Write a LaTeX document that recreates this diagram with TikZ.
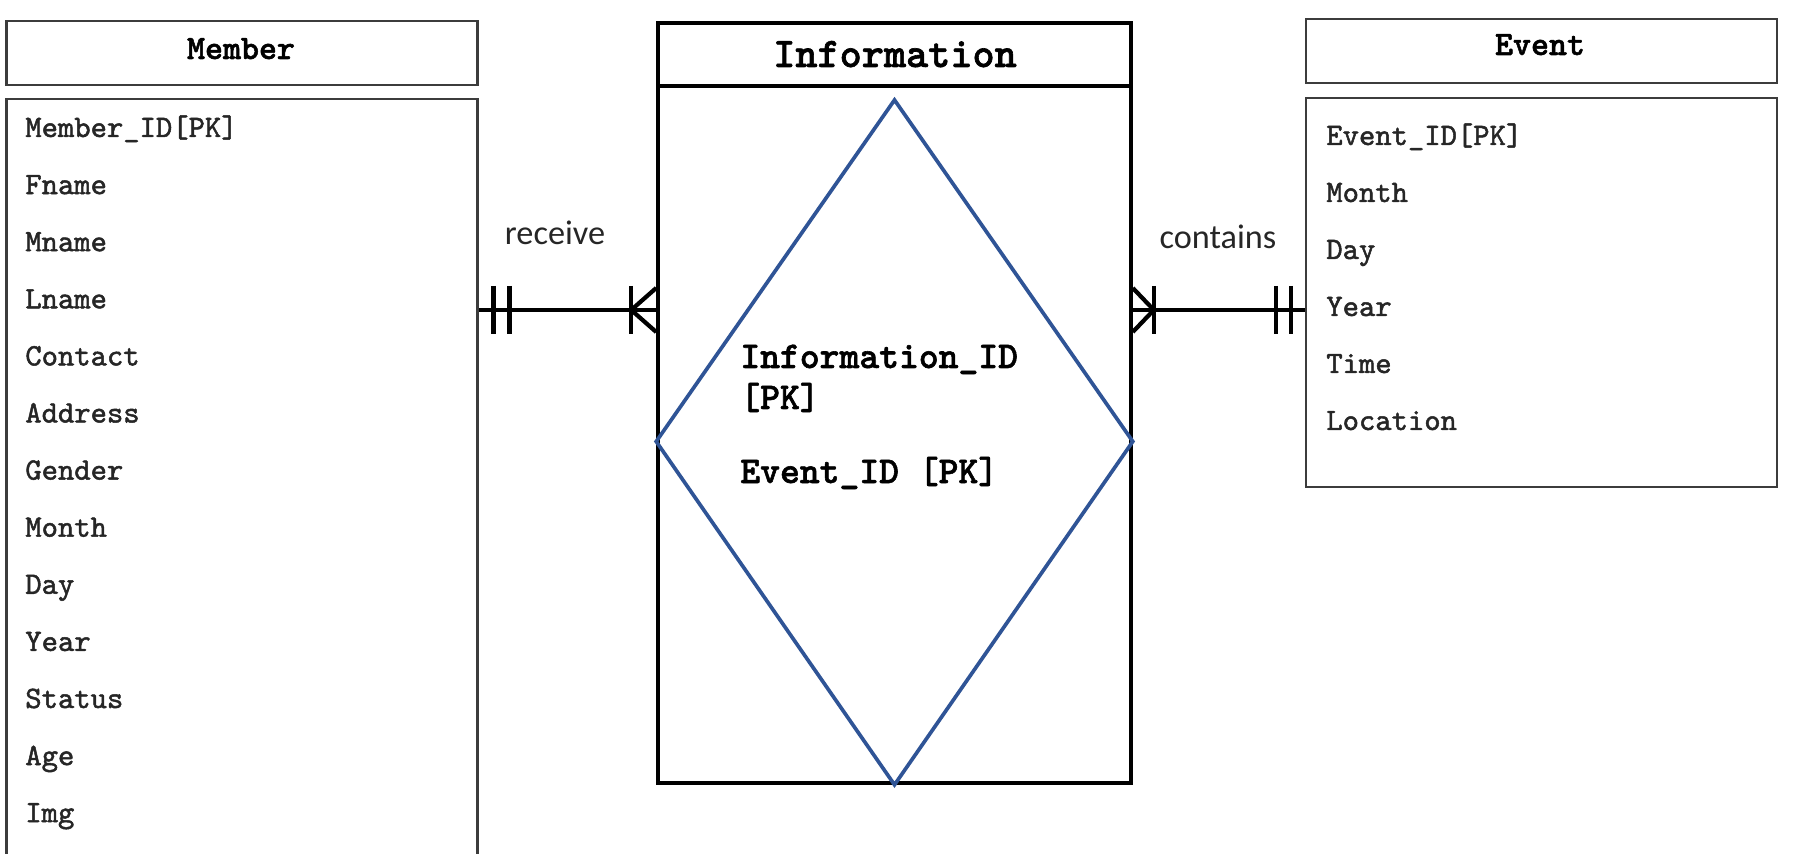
\documentclass[tikz,border=0pt]{standalone}
\usepackage{fontspec}
\newfontfamily\attrfont{lmmono10-regular.otf}[FakeBold=1.6]
\newfontfamily\hdfont{lmmonolt10-bold.otf}[FakeBold=1.5]
\newfontfamily\relfont{Carlito}
\usetikzlibrary{positioning,calc}
\definecolor{boxgray}{RGB}{60,60,60}
\definecolor{diamblue}{RGB}{47,84,150}

\begin{document}
\begin{tikzpicture}[x=0.02cm, y=-0.02cm,
  hd/.style={draw=boxgray, line width=1.2pt, inner sep=0pt,
    minimum width=9.42cm, minimum height=1.28cm},
  hdtext/.style={anchor=base, inner sep=0pt, font=\hdfont\fontsize{19.5}{22}\selectfont},
  bd/.style={draw=boxgray, line width=1.2pt, inner sep=0pt, minimum width=9.42cm},
  ibox/.style={draw=black, line width=2.1pt, inner sep=0pt, minimum width=9.46cm},
  attr/.style={anchor=base west, inner sep=0pt, text=black!85,
    font=\attrfont\fontsize{17.7}{20}\selectfont},
  key/.style={anchor=base west, inner sep=0pt,
    font=\hdfont\fontsize{21.5}{25}\selectfont},
  rel/.style={line width=2.4pt, black},
  lb/.style={anchor=base, inner sep=0pt, text=black!85,
    font=\relfont\fontsize{19.5}{23}\selectfont},
  diam/.style={draw=diamblue, line width=2.1pt, line join=miter},
]
\useasboundingbox (0,0) rectangle (1798,854);
\clip (0,0) rectangle (1798,854);
\node[hd] (mHead) at (242,53) {};
\node[hdtext] (mName) at (241,59) {Member};
\node[bd, minimum height=16.02cm] (mBody) at (242,499.5) {};
\foreach \t [count=\i from 0] in {Member\_ID[PK], Fname, Mname, Lname,
    Contact, Address, Gender, Month, Day, Year, Status, Age, Img} {
  \node[attr] (m\i) at (25,{137+57.1*\i}) {\t};
}
\node[hd] (eHead) at (1541.5,51) {};
\node[hdtext] (eName) at (1540,55) {Event};
\node[bd, minimum height=7.78cm] (eBody) at (1541.5,292.5) {};
\foreach \t [count=\i from 0] in {Event\_ID[PK], Month, Day, Year, Time, Location} {
  \node[attr] (e\i) at (1326,{145+57*\i}) {\t};
}
\node[ibox, minimum height=1.26cm] (iHead) at (894.5,54.5) {};
\node[hdtext, font=\hdfont\fontsize{24}{28}\selectfont] (iName) at (895,67) {Information};
\node[ibox, minimum height=13.94cm] (iBody) at (894.5,434.5) {};
\coordinate (dT) at (894.5,100);
\coordinate (dL) at (iBody.west |- 0,441.5);
\coordinate (dR) at (iBody.east |- 0,441.5);
\draw[diam] (dT) -- (dR) -- (iBody.south) -- (dL) -- cycle;
\node[key] (k1) at (740,368) {Information\_ID};
\node[key] (k2) at (740,409) {[PK]};
\node[key] (k3) at (740,483) {Event\_ID [PK]};
\coordinate (rA) at (mBody.east |- 0,310);
\coordinate (rB) at (iBody.west |- 0,310);
\draw[rel] (rA) -- (rB);
\draw[rel] (rA) ++(15,-24) -- ++(0,48);
\draw[rel] (rA) ++(31,-24) -- ++(0,48);
\draw[rel] (rB) ++(-25,-24) -- ++(0,48);
\draw[rel] (rB) ++(0,-22) -- ++(-25,22) -- ++(25,22);
\node[lb] (rcv) at (555,245) {receive};
\coordinate (cA) at (iBody.east |- 0,310);
\coordinate (cB) at (eBody.west |- 0,310);
\draw[rel] (cA) -- (cB);
\draw[rel] (cA) ++(21,-24) -- ++(0,48);
\draw[rel] (cA) ++(0,-22) -- ++(21,22) -- ++(-21,22);
\draw[rel] (cB) ++(-29,-24) -- ++(0,48);
\draw[rel] (cB) ++(-14,-24) -- ++(0,48);
\node[lb] (cnt) at (1218,249) {contains};
\end{tikzpicture}
\end{document}
